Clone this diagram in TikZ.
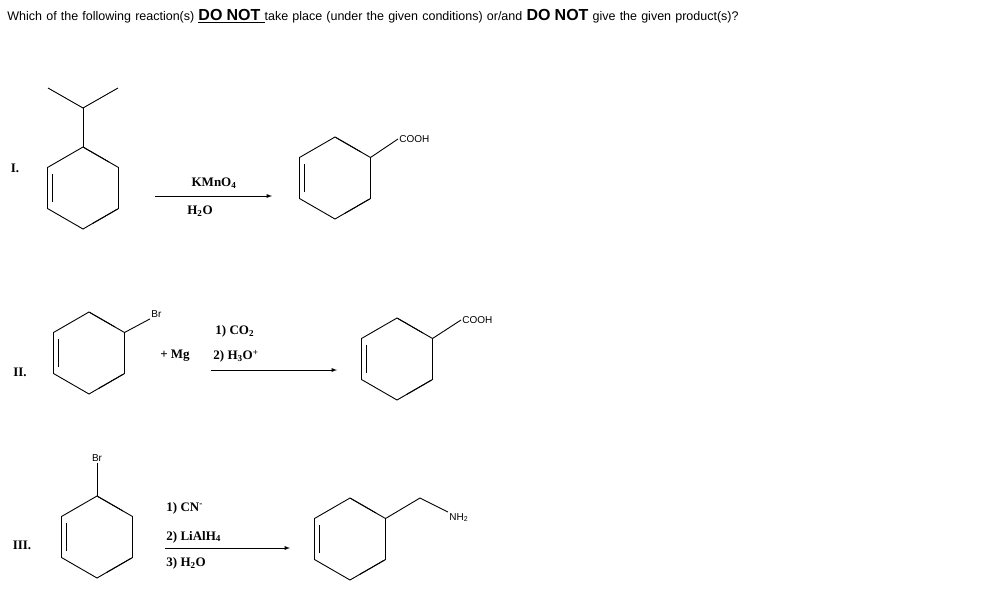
\documentclass[tikz,border=0pt]{standalone}
\usepackage{fontspec}
\setmainfont{Liberation Sans}
\newfontfamily\tms{Liberation Serif}
\usetikzlibrary{calc}
\begin{document}
\begin{tikzpicture}[x=1pt,y=-1pt,line width=0.9pt,
  rg/.style={font=\tms\bfseries\fontsize{13}{15}\selectfont,inner sep=1pt},
  sm/.style={font=\fontsize{10}{12}\selectfont,inner sep=1pt},
  rn/.style={font=\tms\bfseries\fontsize{13}{15}\selectfont,inner sep=0pt},
  arr/.style={-latex}]
\useasboundingbox (0,0) rectangle (982,603);
\newcommand\benz[3]{%
 \foreach \a [count=\i] in {90,30,-30,-90,-150,150}{\coordinate (#1v\i) at ($(#2,#3)+(\a:41 and -41)$);}
 \draw (#1v1)--(#1v2)--(#1v3)--(#1v4)--(#1v5)--(#1v6)--cycle;
 \draw ($(#1v1)!0.15!(#1v2)+(-30:-5 and 5)$) -- ($(#1v1)!0.85!(#1v2)+(-30:-5 and 5)$);
 \draw ($(#1v3)!0.15!(#1v4)+(-150:-5 and 5)$) -- ($(#1v3)!0.85!(#1v4)+(-150:-5 and 5)$);
 \draw ($(#1v5)!0.15!(#1v6)+(5,0)$) -- ($(#1v5)!0.85!(#1v6)+(5,0)$);}
\node[anchor=north west,text width=970,align=left,font=\fontsize{12.5}{21}\selectfont,inner sep=0pt] (title) at (7,9)
 {Which of the following reaction(s) \underline{{\fontsize{16}{18}\selectfont\bfseries DO NOT} }take place (under the given conditions) or/and {\fontsize{16}{18}\selectfont\bfseries DO NOT} give the given product(s)?};
% I
\node[rn] (l1) at (15,168) {I.};
\benz{a}{83}{188}
\coordinate (a7) at (83,108); \coordinate (a8) at (48,88); \coordinate (a9) at (118,88);
\draw (av1)--(a7); \draw (a8)--(a7)--(a9);
\coordinate (r1s) at (155,196); \coordinate (r1e) at (272,196);
\draw[arr] (r1s)--(r1e);
\node[rg] (k1) at (214,183) {KMnO\textsubscript{4}};
\node[rg] (k2) at (200,211) {H\textsubscript{2}O};
\benz{b}{335}{178}
\node[sm,anchor=west] (c1) at (398,139) {COOH};
\draw (bv2)--(c1.west);
% II
\node[rn] (l2) at (20,372) {II.};
\benz{c}{89}{353}
\node[sm,anchor=west] (br2) at (150,314) {Br};
\draw (cv2)--(br2.south west);
\node[rg] (mg) at (175,356) {+ Mg};
\node[rg,anchor=west] (co) at (214,331) {1) CO\textsubscript{2}};
\node[rg,anchor=west] (h3) at (212,356) {2) H\textsubscript{3}O\textsuperscript{+}};
\coordinate (r2s) at (211,370); \coordinate (r2e) at (337,370);
\draw[arr] (r2s)--(r2e);
\benz{d}{397}{359}
\node[sm,anchor=west] (c2) at (461,320) {COOH};
\draw (dv2)--(c2.west);
% III
\node[rn] (l3) at (22,545) {III.};
\benz{e}{97}{537}
\node[sm] (br3) at (97,458) {Br};
\draw (ev1)--(br3.south);
\node[rg,anchor=west] (s1) at (165,508) {1) CN\textsuperscript{-}};
\node[rg,anchor=west] (s2) at (165,537) {2) LiAlH\textsubscript{4}};
\node[rg,anchor=west] (s3) at (165,563) {3) H\textsubscript{2}O};
\coordinate (r3s) at (165,548); \coordinate (r3e) at (290,548);
\draw[arr] (r3s)--(r3e);
\benz{f}{350}{539}
\coordinate (f7) at (420,498);
\node[sm,anchor=north west] (nh) at (448,512) {NH\textsubscript{2}};
\draw (fv2)--(f7)--(nh.north west);
\end{tikzpicture}
\end{document}
